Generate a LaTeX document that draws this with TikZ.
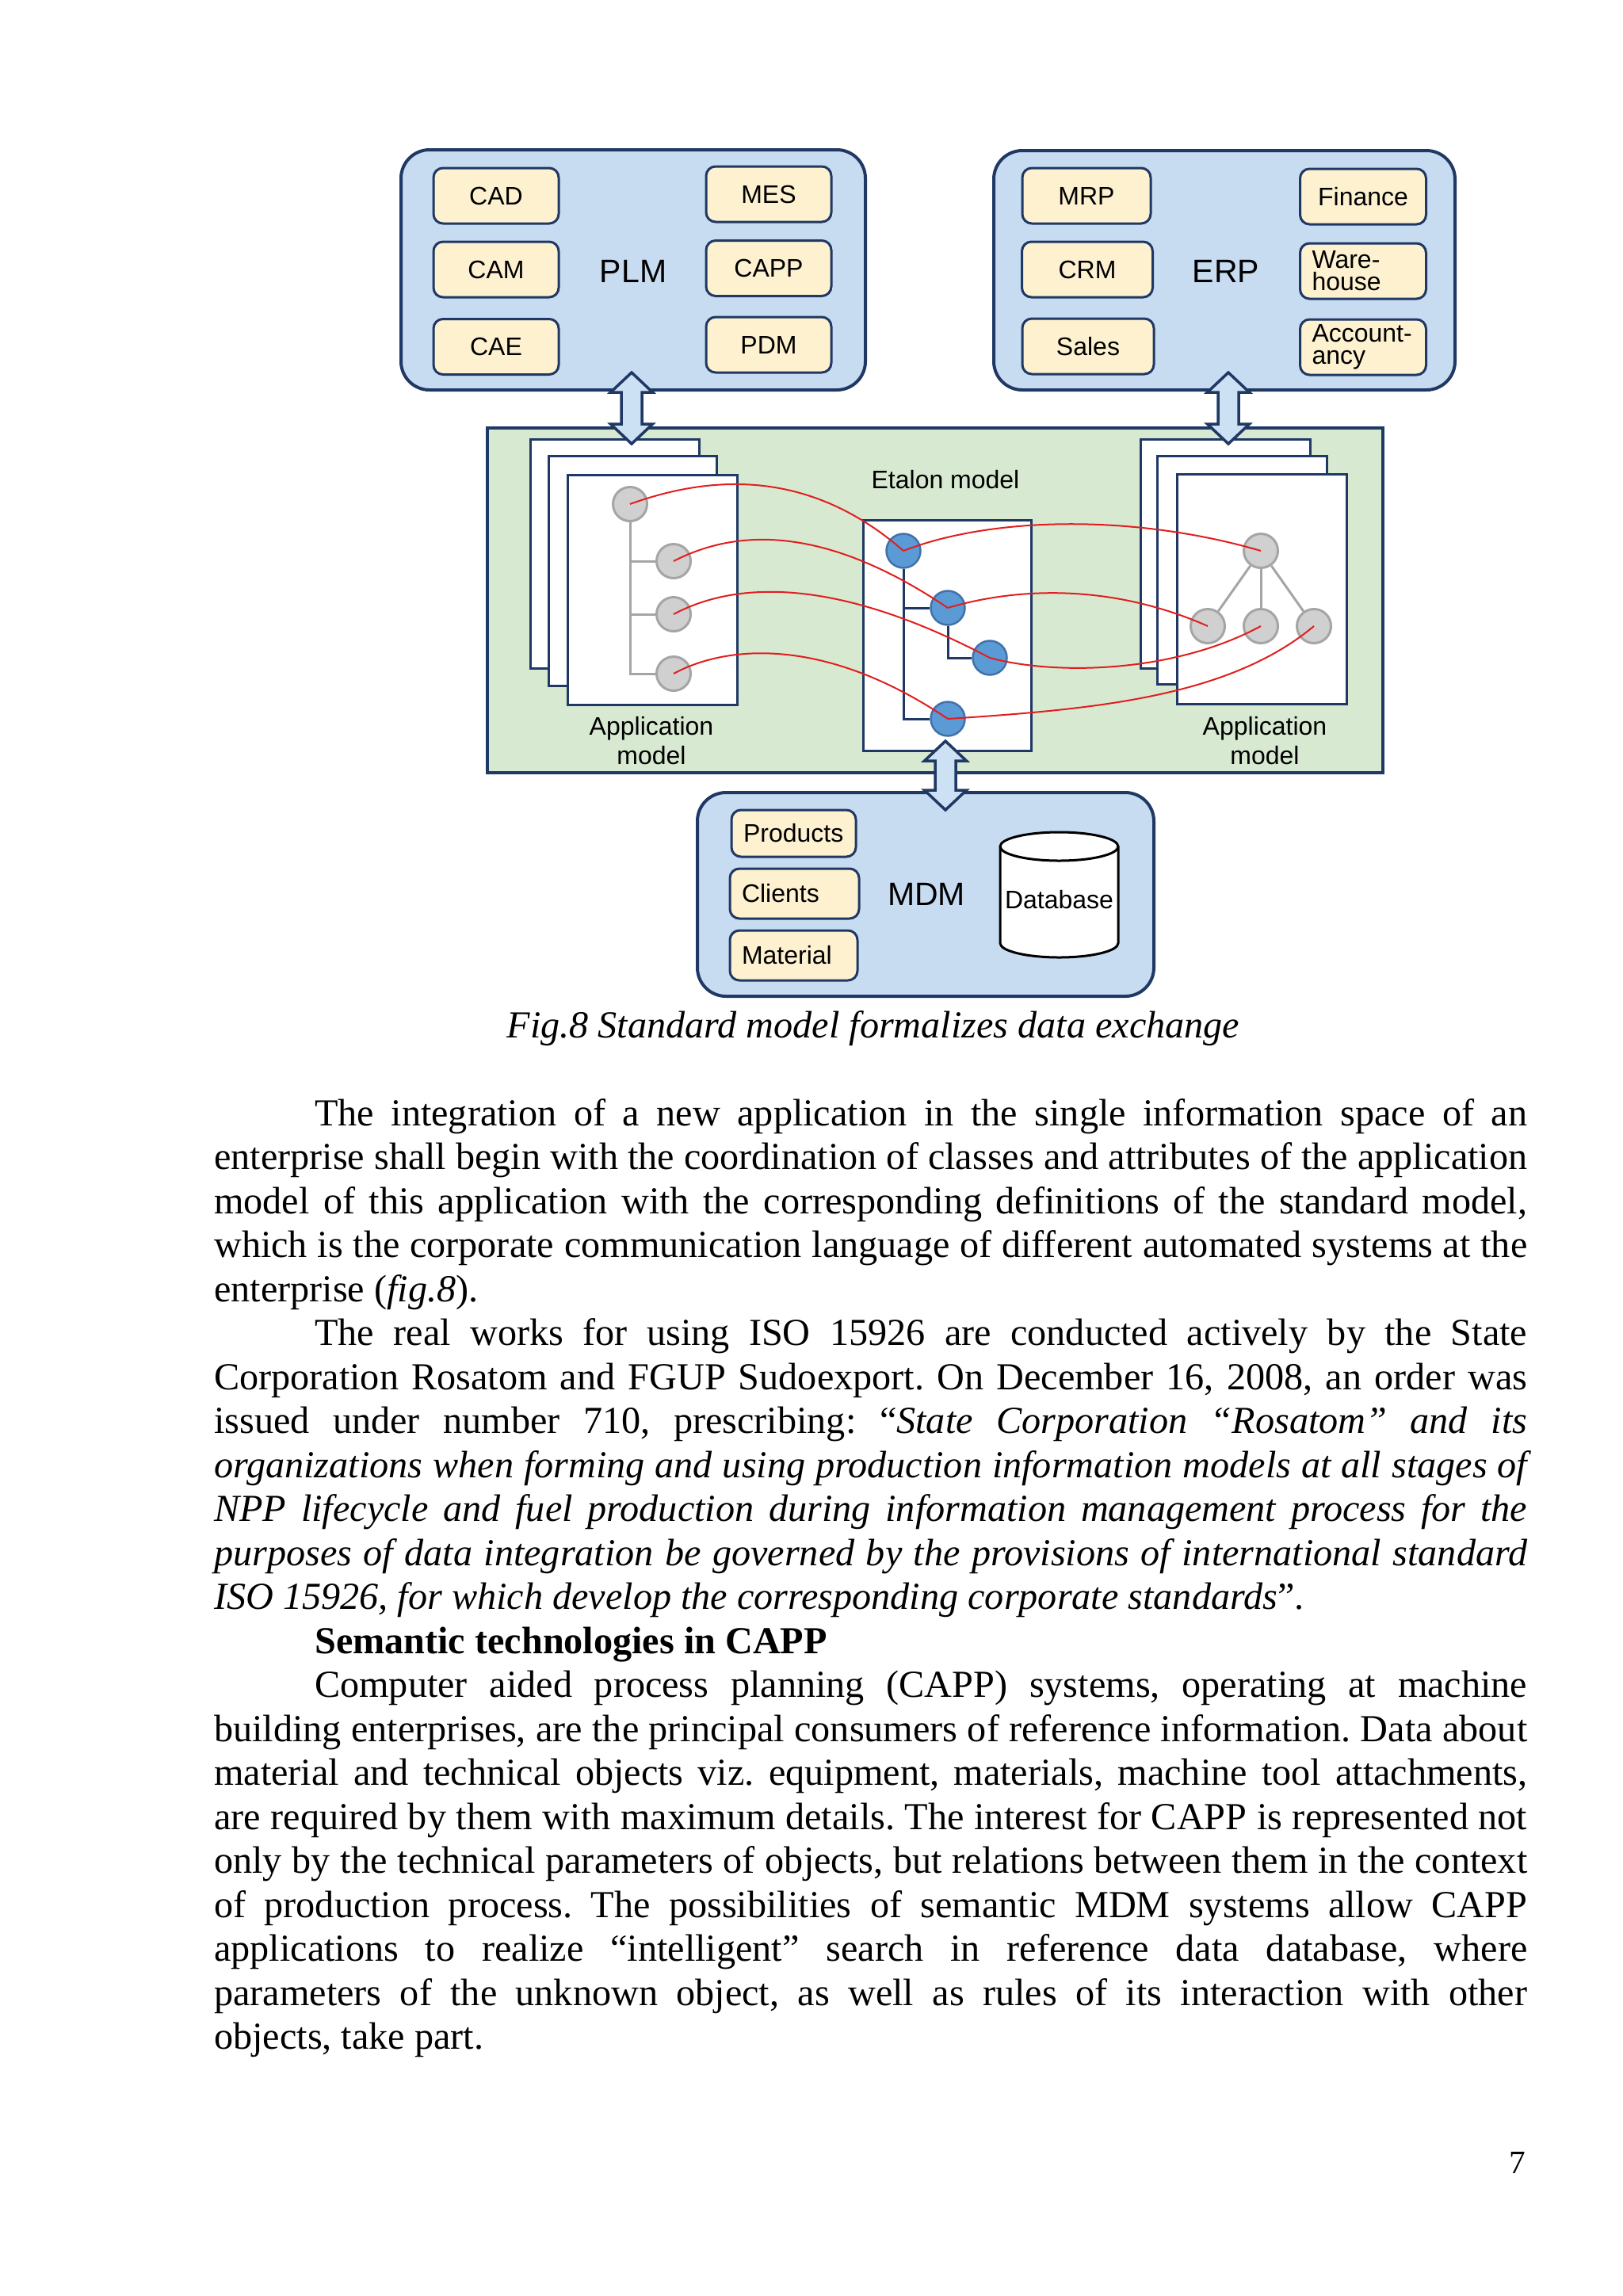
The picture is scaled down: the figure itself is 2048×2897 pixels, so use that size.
\documentclass[tikz,border=0pt]{standalone}
\usepackage{fontspec}
\setmainfont{Liberation Serif}
\newfontfamily\diagfont{Liberation Sans}
\usetikzlibrary{calc}
\frenchspacing
\definecolor{navy}{RGB}{31,56,100}
\definecolor{boxblue}{RGB}{200,220,241}
\definecolor{cream}{RGB}{253,241,208}
\definecolor{greenbg}{RGB}{216,233,210}
\definecolor{arrowblue}{RGB}{205,225,244}
\definecolor{circgray}{RGB}{208,208,208}
\definecolor{circgrayline}{RGB}{165,165,165}
\definecolor{circblue}{RGB}{91,155,213}
\definecolor{circblueline}{RGB}{65,113,170}
\definecolor{redline}{RGB}{225,30,30}
\newcommand\bodyfont{\fontsize{48.2}{55.5}\selectfont}
\newcommand\smallfont{\diagfont\fontsize{32}{28}\selectfont}
\newcommand\bigfont{\diagfont\fontsize{41}{45}\selectfont}
\newcommand\blockarrow[3]{%
 \draw[blockarr] (#1,#2) -- ({#1+26.5},{#2+25}) -- ({#1+13},{#2+25}) -- ({#1+13},{#3-25}) -- ({#1+26.5},{#3-25}) -- (#1,#3) -- ({#1-26.5},{#3-25}) -- ({#1-13},{#3-25}) -- ({#1-13},{#2+25}) -- ({#1-26.5},{#2+25}) -- cycle;}
\tikzset{
 outerbox/.style={draw=navy, line width=4pt, fill=boxblue, rounded corners=36pt, inner sep=0pt},
 subbox/.style={draw=navy, line width=3pt, fill=cream, rounded corners=12pt, inner sep=0pt, font=\smallfont, minimum height=70pt},
 leftbox/.style={draw=navy, line width=3pt, fill=cream, rounded corners=12pt, inner ysep=0pt, inner xsep=15pt, font=\smallfont, align=left},
 pagebox/.style={draw=navy, line width=3pt, fill=white, inner sep=0pt},
 greenbox/.style={draw=navy, line width=3.5pt, fill=greenbg, inner sep=0pt},
 biglabel/.style={font=\bigfont, inner sep=0pt},
 smalllabel/.style={font=\smallfont, inner sep=0pt, align=center},
 blockarr/.style={draw=navy, line width=3.5pt, fill=arrowblue, line join=miter},
 graycirc/.style={circle, draw=circgrayline, fill=circgray, line width=3pt, minimum size=43pt, inner sep=0pt},
 bluecirc/.style={circle, draw=circblueline, fill=circblue, line width=2.5pt, minimum size=43pt, inner sep=0pt},
 grayline/.style={draw=circgrayline, line width=3pt},
 navyline/.style={draw=navy, line width=3pt},
 redcurve/.style={draw=redline, line width=2pt},
 bodytext/.style={anchor=base west, inner sep=0pt, font=\bodyfont},
}
\begin{document}
\begin{tikzpicture}[x=1pt,y=-1pt]
\useasboundingbox (0,0) rectangle (2048,2897);
\fill[white] (0,0) rectangle (2048,2897);

% ---------- PLM ----------
\node[outerbox, minimum width=586pt, minimum height=303pt] (plm) at (799,340.5) {};
\node[biglabel] (plmlabel) at (799,342) {PLM};
\node[subbox, minimum width=158pt] (cad) at (626,247) {CAD};
\node[subbox, minimum width=158pt] (cam) at (626,340) {CAM};
\node[subbox, minimum width=158pt] (cae) at (626,437.5) {CAE};
\node[subbox, minimum width=158pt] (mes) at (970,245) {MES};
\node[subbox, minimum width=158pt] (capp) at (970,338.5) {CAPP};
\node[subbox, minimum width=158pt] (pdm) at (970,435) {PDM};

% ---------- ERP ----------
\node[outerbox, minimum width=582pt, minimum height=302pt] (erp) at (1545,341) {};
\node[biglabel] (erplabel) at (1547,342) {ERP};
\node[subbox, minimum width=162pt] (mrp) at (1371,247) {MRP};
\node[subbox, minimum width=165pt] (crm) at (1372,340) {CRM};
\node[subbox, minimum width=166pt] (sales) at (1373,437) {Sales};
\node[subbox, minimum width=159pt] (finance) at (1720,248) {Finance};
\node[leftbox, text width=129pt, minimum height=70pt] (ware) at (1720,342) {\mbox{Ware-}\\house};
\node[leftbox, text width=129pt, minimum height=70pt] (acc) at (1720,438) {\mbox{Account-}\\ancy};

% ---------- Green area ----------
\node[greenbox, minimum width=1130pt, minimum height=435pt] (green) at (1180,757.5) {};
\node[pagebox, minimum width=213pt, minimum height=289pt] (lp1) at (775.5,698.5) {};
\node[pagebox, minimum width=212pt, minimum height=290pt] (lp2) at (798,720) {};
\node[pagebox, minimum width=214pt, minimum height=290pt] (lp3) at (823,744) {};
\node[pagebox, minimum width=214pt, minimum height=289pt] (rp1) at (1546,698.5) {};
\node[pagebox, minimum width=214pt, minimum height=288pt] (rp2) at (1567,719) {};
\node[pagebox, minimum width=214pt, minimum height=290pt] (rp3) at (1592,743) {};
\node[pagebox, minimum width=212pt, minimum height=291pt] (etalon) at (1195,801.5) {};
\node[smalllabel] (etalonlabel) at (1193,605) {Etalon model};
\node[smalllabel, font=\diagfont\fontsize{32}{37}\selectfont] (applabL) at (822,935) {Application\\model};
\node[smalllabel, font=\diagfont\fontsize{32}{37}\selectfont] (applabR) at (1596,935) {Application\\model};

% ---------- MDM ----------
\node[outerbox, minimum width=576pt, minimum height=257pt] (mdm) at (1168,1128.5) {};
\node[biglabel] (mdmlabel) at (1169,1128) {MDM};
\node[leftbox, text width=127pt, minimum height=59pt] (products) at (1001.5,1051.5) {Products};
\node[leftbox, text width=133pt, minimum height=63pt] (clients) at (1002.5,1127.5) {Clients};
\node[leftbox, text width=131pt, minimum height=63pt] (material) at (1001.5,1205.5) {Material};
\draw[line width=3pt, fill=white] (1262,1068) -- (1262,1190)
  arc[start angle=180, end angle=360, x radius=74.5pt, y radius=18pt]
  -- (1411,1068)
  arc[start angle=0, end angle=180, x radius=74.5pt, y radius=18pt] -- cycle;
\draw[line width=3pt] (1262,1068) arc[start angle=180, end angle=360, x radius=74.5pt, y radius=18pt];
\node[smalllabel] (db) at (1336.5,1135) {Database};

% ---------- block arrows ----------
\blockarrow{797}{470}{560}
\blockarrow{1550}{470}{560}
\blockarrow{1193}{935}{1022}

% ---------- trees ----------
\node[graycirc] (l1) at (795,636) {};
\node[graycirc] (l2) at (850,708) {};
\node[graycirc] (l3) at (850,775) {};
\node[graycirc] (l4) at (850,850) {};
\draw[grayline] (l1) -- (l1 |- l4) -- (l4);
\draw[grayline] (l1 |- l2) -- (l2);
\draw[grayline] (l1 |- l3) -- (l3);

\node[bluecirc] (b1) at (1140,695) {};
\node[bluecirc] (b2) at (1196,767) {};
\node[bluecirc] (b3) at (1249,830) {};
\node[bluecirc] (b4) at (1196,907) {};
\draw[navyline] (b1) -- (b1 |- b4) -- (b4);
\draw[navyline] (b1 |- b2) -- (b2);
\draw[navyline] (b2) -- (b2 |- b3) -- (b3);

\node[graycirc] (r1) at (1591,695) {};
\node[graycirc] (r2) at (1524,790) {};
\node[graycirc] (r3) at (1591,790) {};
\node[graycirc] (r4) at (1658,790) {};
\draw[grayline] (r1) -- (r2);
\draw[grayline] (r1) -- (r3);
\draw[grayline] (r1) -- (r4);

% ---------- red mappings ----------
\draw[redcurve] (l1.center) .. controls (895,600) and (1020,590) .. (b1.center);
\draw[redcurve] (l2.center) .. controls (920,672) and (1030,655) .. (b2.center);
\draw[redcurve] (l3.center) .. controls (925,735) and (1050,725) .. (b3.center);
\draw[redcurve] (l4.center) .. controls (920,812) and (1045,805) .. (b4.center);
\draw[redcurve] (b1.center) .. controls (1250,652) and (1430,648) .. (r1.center);
\draw[redcurve] (b2.center) .. controls (1280,742) and (1400,735) .. (r2.center);
\draw[redcurve] (b3.center) .. controls (1330,852) and (1480,850) .. (r3.center);
\draw[redcurve] (b4.center) .. controls (1380,895) and (1550,880) .. (r4.center);

% ---------- caption ----------
\node[anchor=base, inner sep=0pt, font=\fontsize{48.2}{55.5}\selectfont\itshape] (caption) at (1102,1309) {Fig.8 Standard model formalizes data exchange};

% ---------- body text ----------
\node[bodytext] (t0) at (397,1420) {\makebox[1530pt][s]{The integration of a new application in the single information space of an}};
\node[bodytext] (t1) at (270,1475.5) {\makebox[1657pt][s]{enterprise shall begin with the coordination of classes and attributes of the application}};
\node[bodytext] (t2) at (270,1531) {\makebox[1657pt][s]{model of this application with the corresponding definitions of the standard model,}};
\node[bodytext] (t3) at (270,1586.5) {\makebox[1657pt][s]{which is the corporate communication language of different automated systems at the}};
\node[bodytext] (t4) at (270,1642) {enterprise (\textit{fig.8}).};
\node[bodytext] (t5) at (397,1697.5) {\makebox[1530pt][s]{The real works for using ISO 15926 are conducted actively by the State}};
\node[bodytext] (t6) at (270,1753) {\makebox[1657pt][s]{Corporation Rosatom and FGUP Sudoexport. On December 16, 2008, an order was}};
\node[bodytext] (t7) at (270,1808.5) {\makebox[1657pt][s]{issued under number 710, prescribing: “\textit{State Corporation “Rosatom” and its}}};
\node[bodytext] (t8) at (270,1864) {\makebox[1657pt][s]{\itshape organizations when forming and using production information models at all stages of}};
\node[bodytext] (t9) at (270,1919.5) {\makebox[1657pt][s]{\itshape NPP lifecycle and fuel production during information management process for the}};
\node[bodytext] (t10) at (270,1975) {\makebox[1657pt][s]{\itshape purposes of data integration be governed by the provisions of international standard}};
\node[bodytext] (t11) at (270,2030.5) {\textit{ISO 15926, for which develop the corresponding corporate standards}”.};
\node[bodytext] (t12) at (397,2086) {\textbf{Semantic technologies in CAPP}};
\node[bodytext] (t13) at (397,2141.5) {\makebox[1530pt][s]{Computer aided process planning (CAPP) systems, operating at machine}};
\node[bodytext] (t14) at (270,2197) {\makebox[1657pt][s]{building enterprises, are the principal consumers of reference information. Data about}};
\node[bodytext] (t15) at (270,2252.5) {\makebox[1657pt][s]{material and technical objects viz. equipment, materials, machine tool attachments,}};
\node[bodytext] (t16) at (270,2308) {\makebox[1657pt][s]{are required by them with maximum details. The interest for CAPP is represented not}};
\node[bodytext] (t17) at (270,2363.5) {\makebox[1657pt][s]{only by the technical parameters of objects, but relations between them in the context}};
\node[bodytext] (t18) at (270,2419) {\makebox[1657pt][s]{of production process. The possibilities of semantic MDM systems allow CAPP}};
\node[bodytext] (t19) at (270,2474.5) {\makebox[1657pt][s]{applications to realize “intelligent” search in reference data database, where}};
\node[bodytext] (t20) at (270,2530) {\makebox[1657pt][s]{parameters of the unknown object, as well as rules of its interaction with other}};
\node[bodytext] (t21) at (270,2585.5) {objects, take part.};

% ---------- page number ----------
\node[anchor=base east, inner sep=0pt, font=\fontsize{41.3}{48}\selectfont] (pagenum) at (1925,2742) {7};
\end{tikzpicture}
\end{document}
